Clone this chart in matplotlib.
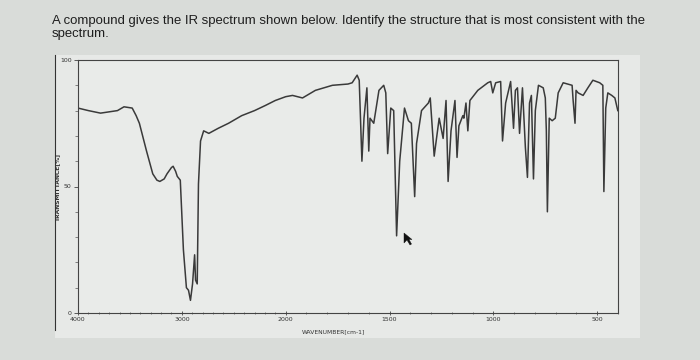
import numpy as np
import matplotlib
matplotlib.use("Agg")
import matplotlib.pyplot as plt
from matplotlib.patches import Rectangle, Polygon
from matplotlib.ticker import FixedLocator

# IR spectrum (wavenumber cm-1, %T)
wavenumber = [4000, 3900, 3783, 3700, 3620, 3557, 3478, 3440, 3409, 3340,
              3280, 3240, 3212, 3170, 3143, 3100, 3084, 3060, 3044, 3015,
              2985, 2956, 2936, 2917, 2897, 2877, 2868, 2852, 2840, 2820,
              2790, 2740, 2650, 2550, 2424, 2300, 2197, 2100, 2000, 1967,
              1919, 1857, 1775, 1700, 1680, 1656, 1646, 1633, 1623, 1609,
              1600, 1594, 1576, 1551, 1528, 1518, 1509, 1494, 1480, 1466,
              1451, 1428, 1409, 1395, 1379, 1370, 1346, 1313, 1304, 1285,
              1261, 1242, 1228, 1218, 1204, 1185, 1175, 1166, 1147, 1142,
              1132, 1123, 1113, 1075, 1027, 1013, 1003, 989, 965, 956,
              941, 917, 903, 894, 884, 874, 860, 846, 836, 826,
              817, 807, 798, 783, 760, 750, 745, 740, 731, 717,
              702, 688, 664, 621, 616, 607, 602, 592, 568, 545,
              521, 488, 473, 468, 459, 449, 430, 415, 401]
transmittance = [81, 80, 79, 79.5, 80, 81.5, 81, 78, 75, 64,
                 55, 52.5, 52, 53, 55, 57.5, 58, 56, 54, 52.5,
                 25, 10, 9, 5, 11.5, 23, 13, 11.5, 51, 68,
                 72, 71, 73, 75, 78, 80, 82, 84, 85.5, 86,
                 85, 88, 90, 90.5, 91, 94, 92, 60, 77, 89,
                 64, 77, 75, 88, 90, 87, 63, 81, 80, 30.5,
                 60, 81, 76, 75, 46, 67, 80, 83, 85, 62,
                 77, 69, 84, 52, 72, 84, 61.5, 74, 78, 77,
                 83, 72, 84, 88, 91, 91.5, 87, 91, 91.5, 68,
                 83, 91.5, 73, 88, 89, 71, 89, 65.5, 53.6, 83,
                 86, 53, 80, 90, 89, 85, 72, 40, 77, 76,
                 77, 87, 91, 90, 84, 75, 88, 87, 86, 89,
                 92, 91, 90, 48, 81, 87, 86, 85, 80]

major_ticks = [4000, 3000, 2000, 1500, 1000, 500]
y_ticks = [0, 50, 100]

title_lines = ["A compound gives the IR spectrum shown below. Identify the structure that is most consistent with the",
               "spectrum."]


# spectrometer axis: scale doubles below 2000 cm-1
def fwd(w):
    w = np.asarray(w, dtype=float)
    return np.where(w >= 2000, w, 2 * w - 2000)


def inv(u):
    u = np.asarray(u, dtype=float)
    return np.where(u >= 2000, u, (u + 2000) / 2)


W, H = 700, 360
fig = plt.figure(figsize=(7, 3.6), dpi=100)
fig.patch.set_facecolor("#d9dcd9")

# lighter screen panel behind the chart
fig.patches.append(Rectangle((55 / W, 1 - 338 / H), 585 / W, 283 / H,
                             transform=fig.transFigure, facecolor="#e7e9e7",
                             edgecolor="none", zorder=-5))
fig.lines.append(plt.Line2D([55 / W, 55 / W], [1 - 55 / H, 1 - 330 / H],
                            transform=fig.transFigure, color="#333333", lw=0.8,
                            zorder=-4))

for line, base in zip(title_lines, [24, 37]):
    fig.text(52 / W, 1 - base / H, line, ha="left", va="baseline", fontsize=9.45,
             family="Liberation Sans", color="#1e1e1e")

ax = fig.add_axes([78 / W, 1 - 313 / H, 540 / W, 253 / H])
ax.set_zorder(2)
ax.set_facecolor("#e9ebe9")
ax.set_xscale("function", functions=(fwd, inv))
ax.plot(wavenumber, transmittance, color="#3a3a3a", lw=1.1)
ax.set_xlim(4000, 400)
ax.set_ylim(0, 100)

ax.xaxis.set_major_locator(FixedLocator(major_ticks))
ax.xaxis.set_minor_locator(FixedLocator(np.arange(400, 4001, 100)))
ax.set_xticklabels([str(t) for t in major_ticks])
ax.set_yticks(y_ticks)
ax.yaxis.set_minor_locator(FixedLocator(np.arange(0, 101, 10)))
ax.tick_params(axis="both", which="major", labelsize=4.5, length=3,
               width=0.6, color="#444444", labelcolor="#333333", pad=1.5)
ax.tick_params(axis="x", which="both", direction="inout")
ax.tick_params(axis="both", which="minor", length=2, width=0.5, color="#555555")
for s in ax.spines.values():
    s.set_color("#444444")
    s.set_linewidth(0.8)

fig.text(58 / W, 1 - 187 / H, "TRANSMITTANCE[%]", rotation=90, ha="center",
         va="center", fontsize=4.3, weight="bold", color="#333333")
fig.text(333 / W, 1 - 332 / H, "WAVENUMBER[cm-1]", ha="center", va="center",
         fontsize=4.3, color="#333333")

# mouse pointer visible in the photographed screen
cx, cy = 404, 233
pts = [(cx, cy), (cx, cy + 10), (cx + 3, cy + 7), (cx + 6, cy + 12),
       (cx + 7.5, cy + 11), (cx + 5, cy + 6.5), (cx + 8, cy + 6.5)]
fig.patches.append(Polygon([(x / W, 1 - y / H) for x, y in pts], closed=True,
                           transform=fig.transFigure, facecolor="#111111",
                           edgecolor="#111111", lw=0.3, zorder=10))

fig.savefig("out.png", dpi=100, facecolor=fig.get_facecolor())
